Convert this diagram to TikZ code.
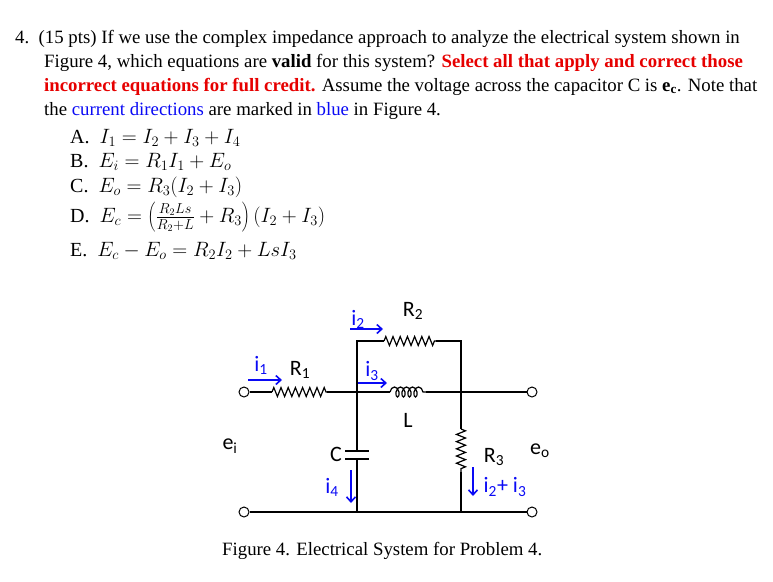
\documentclass[tikz,border=0pt]{standalone}
\usepackage{fontspec}
\setmainfont{Liberation Serif}
\newfontfamily\cf{Carlito}
\usetikzlibrary{decorations.pathmorphing,arrows.meta}
\definecolor{qred}{RGB}{230,0,0}
\definecolor{qblue}{RGB}{10,10,245}
\begin{document}
\begin{tikzpicture}[x=1pt,y=-1pt,
  txt/.style={anchor=base west,inner sep=0pt,font=\fontsize{18.8}{22}\selectfont},
  eq/.style={anchor=base west,inner sep=0pt,font=\fontsize{20}{22}\selectfont},
  lbl/.style={inner sep=0pt,font=\cf\fontsize{22}{24}\selectfont},
  blbl/.style={lbl,text=qblue},
  wire/.style={line width=1.2pt},
  res/.style={wire,decorate,decoration={zigzag,amplitude=4.5,segment length=7.2}},
  ind/.style={wire,decorate,decoration={coil,amplitude=5,segment length=6,aspect=0.6}},
  carr/.style={qblue,line width=1.6pt,-{Straight Barb[length=5pt,width=9pt]}},
  term/.style={circle,draw,line width=1pt,fill=white,minimum size=10pt,inner sep=0pt}]
\useasboundingbox (0,0) rectangle (773,581);
\node[txt] (l1) at (15,43) {4.\ \ (15 pts) If we use the complex impedance approach to analyze the electrical system shown in};
\node[txt] (l2) at (44,67) {Figure 4, which equations are \textbf{valid} for this system? \textcolor{qred}{\textbf{Select all that apply and correct those}}};
\node[txt] (l3) at (44,91) {\textcolor{qred}{\textbf{incorrect equations for full credit.}} Assume the voltage across the capacitor C is \textbf{e\textsubscript{c}}. Note that};
\node[txt] (l4) at (44,115) {the \textcolor{qblue}{current directions} are marked in \textcolor{qblue}{blue} in Figure 4.};
\node[eq] (a) at (70,143) {A.\ \ $I_1=I_2+I_3+I_4$};
\node[eq] (b) at (70,167) {B.\ \ $E_i=R_1I_1+E_o$};
\node[eq] (c) at (70,192) {C.\ \ $E_o=R_3(I_2+I_3)$};
\node[eq] (d) at (70,222) {D.\ \ $E_c=\left(\frac{R_2Ls}{R_2+L}+R_3\right)(I_2+I_3)$};
\node[eq] (e) at (70,256) {E.\ \ $E_c-E_o=R_2I_2+LsI_3$};
\node[txt] (cap) at (222,555) {Figure 4. Electrical System for Problem 4.};
% circuit
\node[term] (tl) at (244,392) {};
\node[term] (tr) at (532,392) {};
\node[term] (bl) at (244,512) {};
\node[term] (br) at (532,512) {};
\coordinate (j1) at (357,392);
\coordinate (j2) at (461,392);
\coordinate (t1) at (357,341);
\coordinate (t2) at (461,341);
\coordinate (b1) at (357,512);
\coordinate (b2) at (461,512);
\draw[wire] (tl) -- (272,392);
\draw[res] (272,392) -- (327,392);
\draw[wire] (327,392) -- (j1) -- (390,392);
\draw[ind] (390,392) -- (426,392);
\draw[wire] (426,392) -- (j2) -- (tr);
\draw[wire] (j1) -- (t1) -- (384,341);
\draw[res] (384,341) -- (436,341);
\draw[wire] (436,341) -- (t2) -- (j2) -- (461,429);
\draw[res] (461,429) -- (461,472);
\draw[wire] (461,472) -- (b2);
\draw[wire] (j1) -- (357,451);
\draw[wire] (345,451) -- (369,451);
\draw[wire] (345,459) -- (369,459);
\draw[wire] (357,459) -- (b1);
\draw[wire] (bl) -- (br);
% labels
\node[lbl] (r1) at (300,370) {R\textsubscript{1}};
\node[lbl] (r2) at (413,311) {R\textsubscript{2}};
\node[lbl] (r3) at (494,457) {R\textsubscript{3}};
\node[lbl] (ll) at (408,420) {L};
\node[lbl] (cc) at (336,454) {C};
\node[lbl] (ei) at (230,446) {e\textsubscript{i}};
\node[lbl] (eo) at (540,451) {e\textsubscript{o}};
\node[blbl] (i1) at (261,365) {i\textsubscript{1}};
\node[blbl] (i2) at (358,319) {i\textsubscript{2}};
\node[blbl] (i3) at (372,371) {i\textsubscript{3}};
\node[blbl] (i4) at (332,487) {i\textsubscript{4}};
\node[blbl] (i23) at (505,487) {i\textsubscript{2}+ i\textsubscript{3}};
\draw[carr] (248,380) -- (282,380);
\draw[carr] (350,329) -- (383,329);
\draw[carr] (358,383) -- (387,383);
\draw[carr] (351,470) -- (351,503);
\draw[carr] (473,467) -- (473,496);
\end{tikzpicture}
\end{document}
